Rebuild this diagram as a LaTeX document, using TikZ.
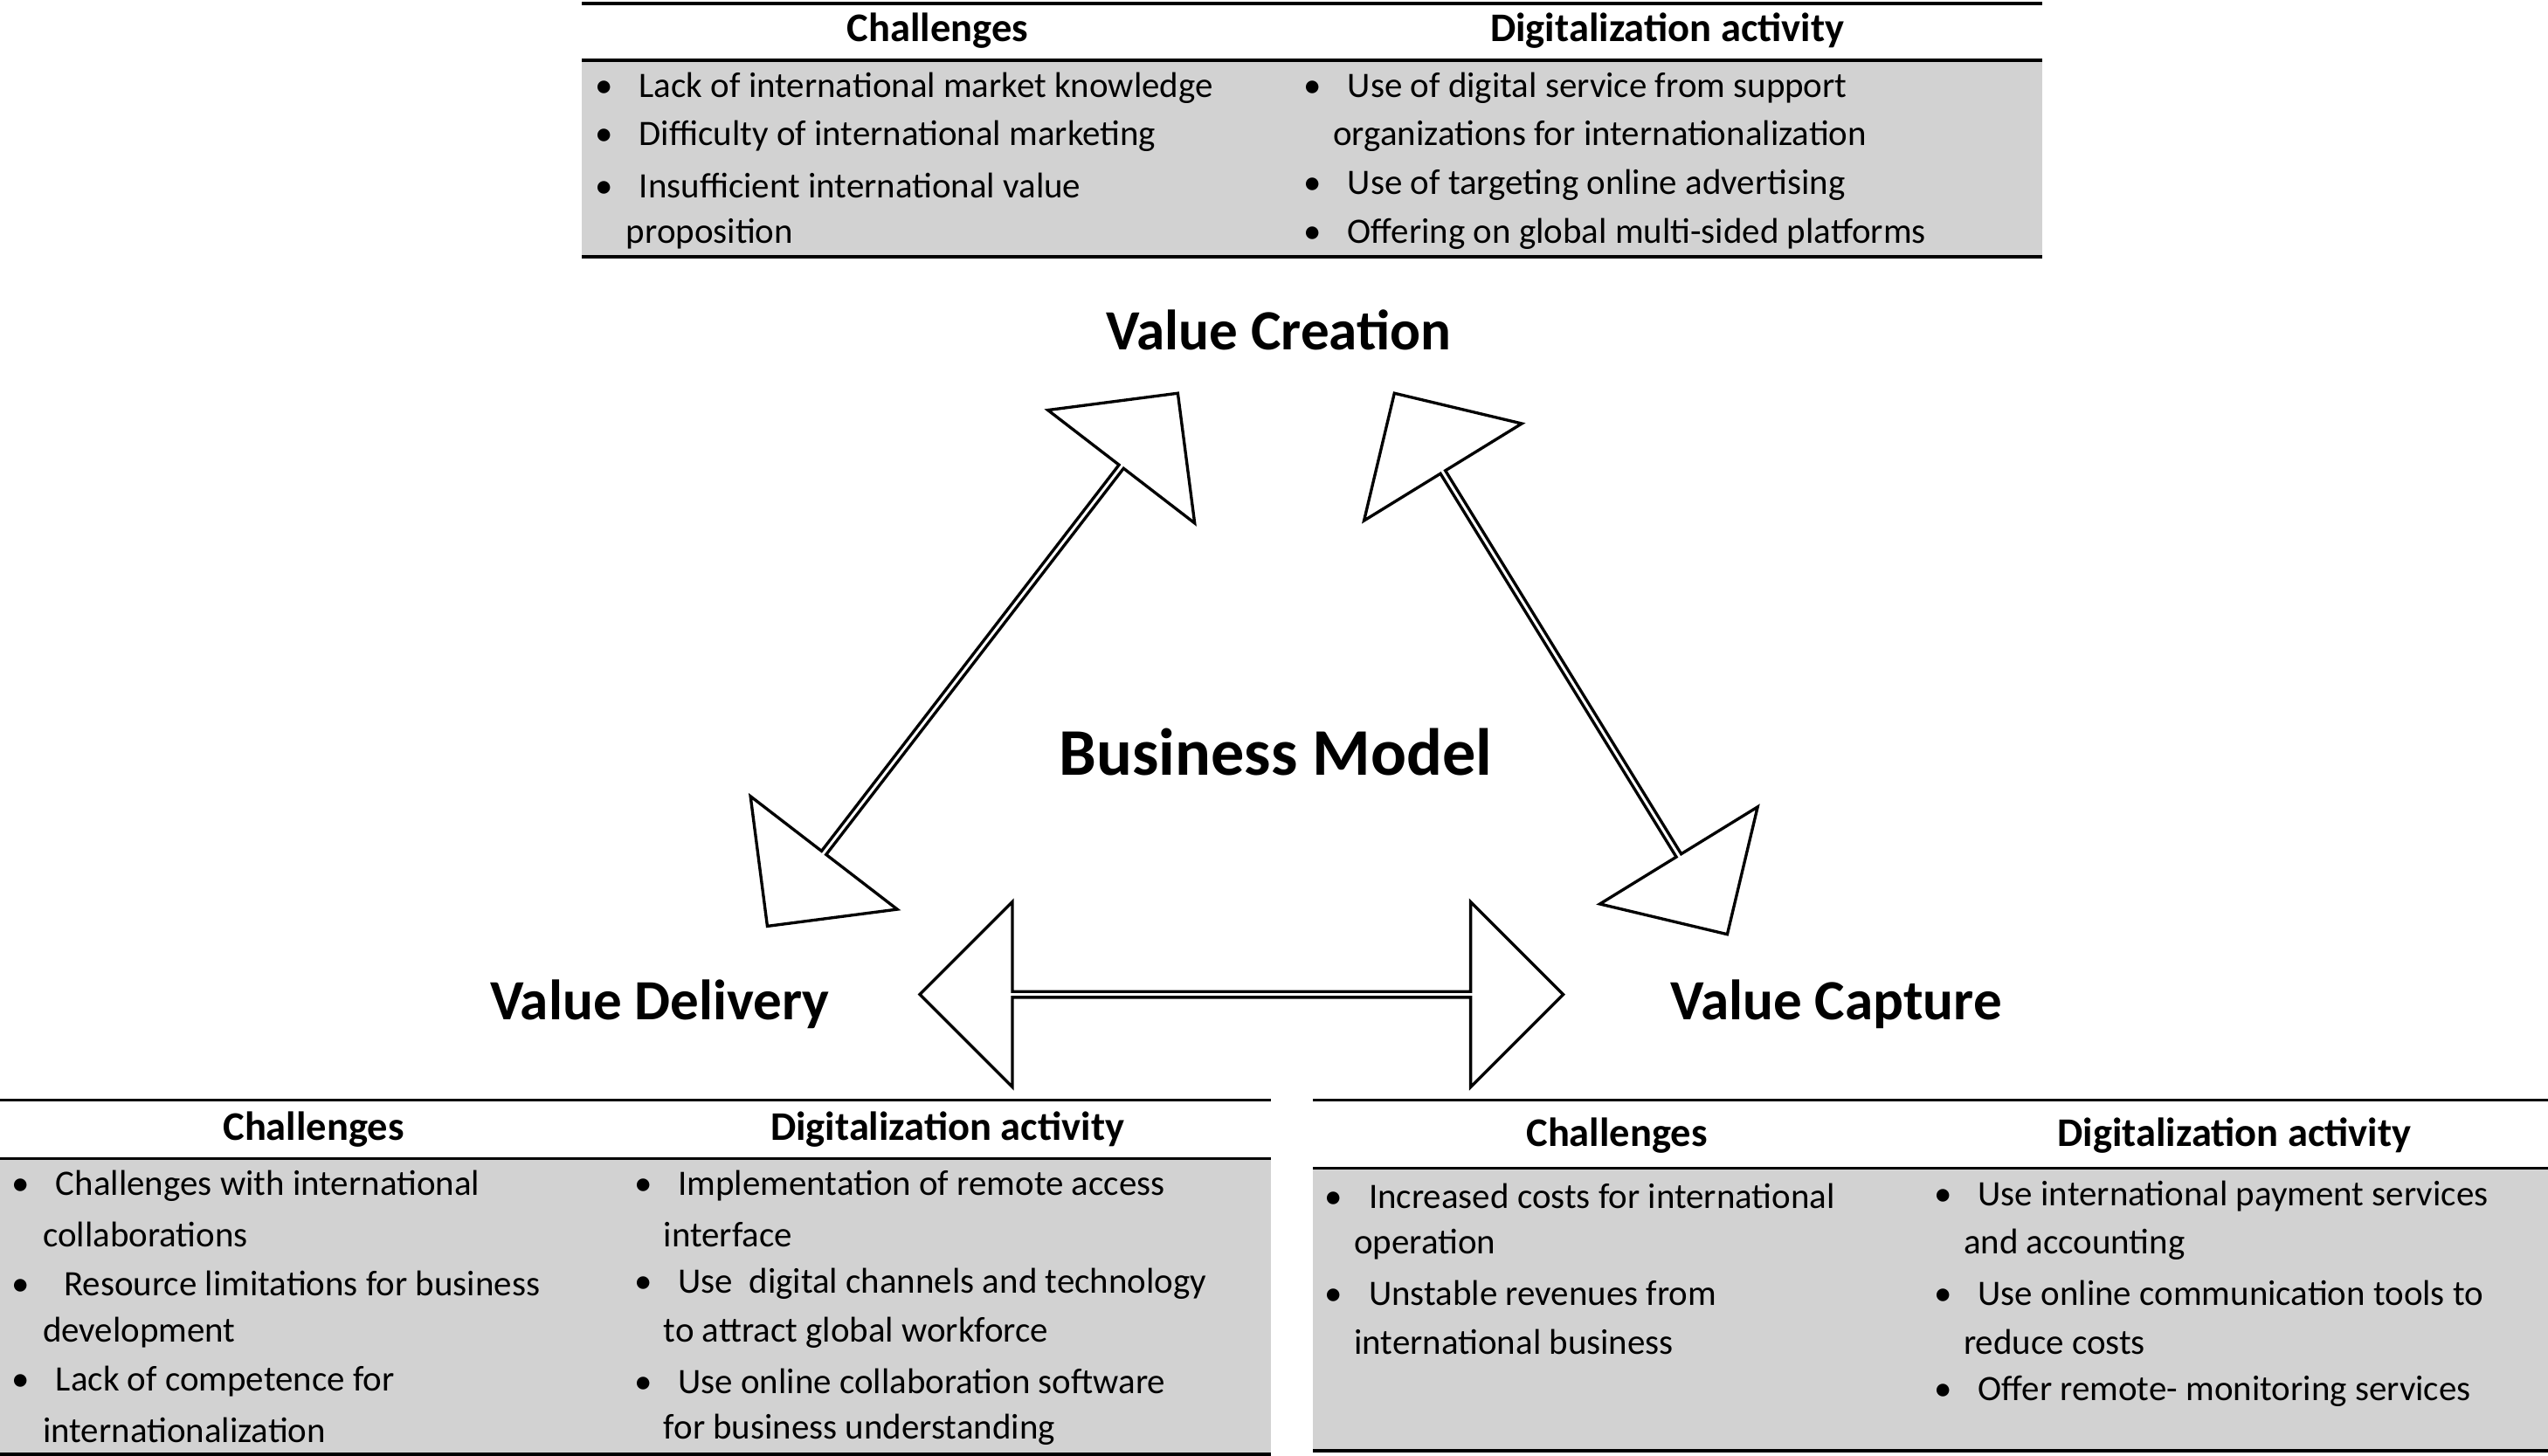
\documentclass[tikz,border=0pt]{standalone}
\usepackage{fontspec}
\setmainfont{Carlito}
\usetikzlibrary{shapes.arrows}
\begin{document}
\begin{tikzpicture}[x=0.5pt,y=-0.5pt,
  rule/.style={line width=1pt},
  hdr/.style={font=\bfseries\fontsize{12.5}{14}\selectfont,inner sep=0},
  txt/.style={anchor=west,font=\fontsize{11}{13}\selectfont,inner sep=0},
  ttl/.style={font=\bfseries\fontsize{17.5}{20}\selectfont,inner sep=0},
  barrow/.style={double arrow,draw,fill=white,line width=0.9pt,inner sep=0,
    minimum width=57pt,double arrow head extend=14pt,double arrow tip angle=90}]
\useasboundingbox (0,0) rectangle (1568,896);
% top table
\fill[gray!35] (358,37) rectangle (1257,158);
\draw[rule] (358,2)--(1257,2); \draw[rule] (358,37)--(1257,37); \draw[rule] (358,158)--(1257,158);
\node[hdr] (tc) at (577,19) {Challenges};
\node[hdr] (td) at (1026,19) {Digitalization activity};
\node[txt] (t1) at (366,54) {•\hspace{8pt}Lack of international market knowledge};
\node[txt] (t2) at (366,84) {•\hspace{8pt}Difficulty of international marketing};
\node[txt] (t3) at (366,114) {•\hspace{8pt}Insufficient international value};
\node[txt] (t4) at (385,144) {proposition};
\node[txt] (t5) at (802,54) {•\hspace{8pt}Use of digital service from support};
\node[txt] (t6) at (820,84) {organizations for internationalization};
\node[txt] (t7) at (802,114) {•\hspace{8pt}Use of targeting online advertising};
\node[txt] (t8) at (802,144) {•\hspace{8pt}Offering on global multi-sided platforms};
% titles
\node[ttl] (vc) at (787,203) {Value Creation};
\node[ttl,font=\bfseries\fontsize{20.5}{23}\selectfont] (bm) at (785,463) {Business Model};
\node[ttl] (vd) at (406,618) {Value Delivery};
\node[ttl] (vp) at (1130,618) {Value Capture};
% arrows
\node[barrow,minimum height=207pt,rotate=52.4] (a1) at (598.5,406) {};
\node[barrow,minimum height=195.5pt,rotate=-58.4] (a2) at (960.5,408.5) {};
\node[barrow,minimum height=198pt] (a3) at (764,612) {};
% bottom left
\fill[gray!35] (0,713) rectangle (782,895);
\draw[rule] (0,677)--(782,677); \draw[rule] (0,713)--(782,713); \draw[rule] (0,895)--(782,895);
\node[hdr] (lc) at (193,695) {Challenges};
\node[hdr] (ld) at (583,695) {Digitalization activity};
\node[txt] (l1) at (7,730) {•\hspace{8pt}Challenges with international};
\node[txt] (l2) at (26,760) {collaborations};
\node[txt] (l3) at (7,790) {•\hspace{8pt} Resource limitations for business};
\node[txt] (l4) at (26,820) {development};
\node[txt] (l5) at (7,850) {•\hspace{8pt}Lack of competence for};
\node[txt] (l6) at (26,880) {internationalization};
\node[txt] (l7) at (390,730) {•\hspace{8pt}Implementation of remote access};
\node[txt] (l8) at (408,760) {interface};
\node[txt] (l9) at (390,790) {•\hspace{8pt}Use\ \ digital channels and technology};
\node[txt] (l10) at (408,820) {to attract global workforce};
\node[txt] (l11) at (390,850) {•\hspace{8pt}Use online collaboration software};
\node[txt] (l12) at (408,880) {for business understanding};
% bottom right
\fill[gray!35] (808,719) rectangle (1568,893);
\draw[rule] (808,677)--(1568,677); \draw[rule] (808,719)--(1568,719); \draw[rule] (808,893)--(1568,893);
\node[hdr] (rc) at (995,699) {Challenges};
\node[hdr] (rd) at (1375,699) {Digitalization activity};
\node[txt] (r1) at (815,736) {•\hspace{8pt}Increased costs for international};
\node[txt] (r2) at (833,766) {operation};
\node[txt] (r3) at (815,796) {•\hspace{8pt}Unstable revenues from};
\node[txt] (r4) at (833,826) {international business};
\node[txt] (r5) at (1190,736) {•\hspace{8pt}Use international payment services};
\node[txt] (r6) at (1208,766) {and accounting};
\node[txt] (r7) at (1190,796) {•\hspace{8pt}Use online communication tools to};
\node[txt] (r8) at (1208,826) {reduce costs};
\node[txt] (r9) at (1190,856) {•\hspace{8pt}Offer remote- monitoring services};
\end{tikzpicture}
\end{document}
